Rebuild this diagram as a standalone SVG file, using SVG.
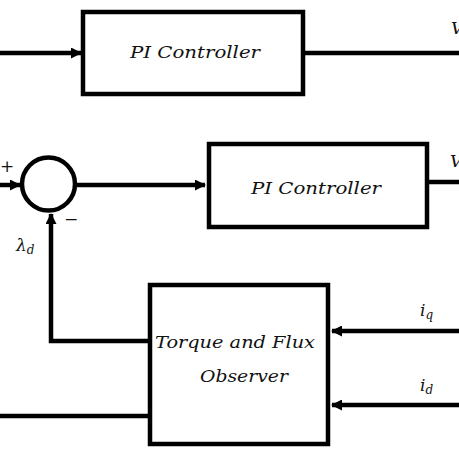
<svg xmlns="http://www.w3.org/2000/svg" width="459" height="459" viewBox="0 0 459 459">
<defs>
<marker id="arr" markerWidth="11" markerHeight="11" refX="10" refY="5.5" orient="auto" markerUnits="userSpaceOnUse">
<path d="M0,0 L11,5.5 L0,11 Z" fill="#000"/>
</marker>
<style>
.box{fill:#fff;stroke:#000;stroke-width:4.5}
.ln{fill:none;stroke:#000;stroke-width:4.5}
.t{font-family:"DejaVu Serif",serif;font-style:italic;font-size:16px;fill:#111}
.s{font-family:"DejaVu Serif",serif;font-style:italic;font-size:17px;fill:#111}
.sub{font-size:12px}
</style>
</defs>
<rect width="459" height="459" fill="#fff"/>
<g id="connectors">
<line class="ln" x1="0" y1="53" x2="81" y2="53" marker-end="url(#arr)"/>
<line class="ln" x1="305" y1="53" x2="459" y2="53"/>
<line class="ln" x1="0" y1="185" x2="20" y2="185" marker-end="url(#arr)"/>
<line class="ln" x1="77" y1="185" x2="205" y2="185" marker-end="url(#arr)"/>
<line class="ln" x1="429" y1="182" x2="459" y2="182"/>
<polyline class="ln" points="148,341 51,341 51,214" marker-end="url(#arr)"/>
<line class="ln" x1="459" y1="331" x2="332" y2="331" marker-end="url(#arr)"/>
<line class="ln" x1="459" y1="405" x2="332" y2="405" marker-end="url(#arr)"/>
<line class="ln" x1="0" y1="416" x2="150" y2="416"/>
</g>
<g id="pi1">
<rect class="box" x="83" y="12" width="220" height="82"/>
<text class="t" x="130" y="58" textLength="130" lengthAdjust="spacingAndGlyphs">PI Controller</text>
</g>
<g id="pi2">
<rect class="box" x="209" y="144" width="218" height="83"/>
<text class="t" x="251" y="194" textLength="130" lengthAdjust="spacingAndGlyphs">PI Controller</text>
</g>
<g id="sum">
<circle class="ln" cx="48.5" cy="184" r="26.5"/>
<text class="s" x="0" y="172" font-style="normal">+</text>
<text class="s" x="64" y="225" font-style="normal">−</text>
</g>
<g id="observer">
<rect class="box" x="150" y="285" width="178" height="159"/>
<text class="t" x="155" y="348" textLength="160" lengthAdjust="spacingAndGlyphs">Torque and Flux</text>
<text class="t" x="200" y="382" textLength="88" lengthAdjust="spacingAndGlyphs">Observer</text>
</g>
<g id="labels">
<text class="s" x="451" y="34">V</text>
<text class="s" x="450" y="167">V</text>
<text class="s" x="16" y="251">λ<tspan class="sub" dy="3">d</tspan></text>
<text class="s" x="420" y="316">i<tspan class="sub" dy="3">q</tspan></text>
<text class="s" x="420" y="391">i<tspan class="sub" dy="3">d</tspan></text>
</g>
</svg>
